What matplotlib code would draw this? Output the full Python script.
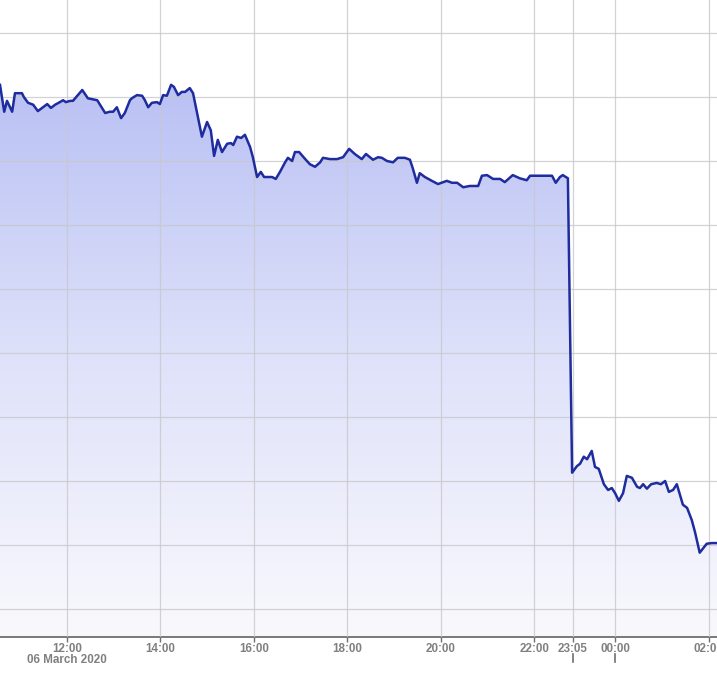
import numpy as np
import matplotlib.pyplot as plt
from matplotlib.colors import LinearSegmentedColormap
from matplotlib.patches import Polygon
from matplotlib.transforms import blended_transform_factory

# session hours (axis is compressed after 22:00) and price level (grid units)
hours = [10.57, 10.66, 10.72, 10.83, 10.89, 11.04, 11.08, 11.17, 11.28, 11.38,
         11.58, 11.66, 11.75, 11.85, 11.92, 11.98, 12.07, 12.13, 12.33, 12.45,
         12.65, 12.82, 12.92, 12.99, 13.07, 13.16, 13.24, 13.35, 13.39, 13.50,
         13.61, 13.67, 13.74, 13.82, 13.93, 13.99, 14.06, 14.14, 14.23, 14.29,
         14.38, 14.46, 14.53, 14.63, 14.70, 14.78, 14.89, 15.00, 15.08, 15.15,
         15.23, 15.32, 15.43, 15.51, 15.56, 15.64, 15.73, 15.81, 15.92, 15.98,
         16.07, 16.15, 16.22, 16.39, 16.47, 16.56, 16.67, 16.73, 16.82, 16.88,
         16.97, 17.10, 17.20, 17.31, 17.42, 17.48, 17.63, 17.78, 17.91, 18.04,
         18.16, 18.31, 18.40, 18.55, 18.66, 18.74, 18.85, 18.98, 19.08, 19.23,
         19.34, 19.40, 19.49, 19.55, 19.66, 19.81, 19.94, 20.13, 20.24, 20.35,
         20.48, 20.62, 20.80, 20.88, 20.99, 21.12, 21.27, 21.37, 21.54, 21.69,
         21.84, 21.91, 22.16, 22.38, 22.46, 22.55, 22.61, 22.72, 22.81, 22.91,
         22.98, 23.06, 23.13, 23.23, 23.30, 23.38, 23.49, 23.58, 23.66, 23.73,
         23.81, 23.90, 23.98, 24.09, 24.20, 24.26, 24.33, 24.41, 24.50, 24.62,
         24.71, 24.80, 24.88, 24.97, 25.05, 25.18, 25.27, 25.37, 25.44, 25.54,
         25.69, 25.80, 25.91]
values = [8.19, 7.77, 7.94, 7.77, 8.06, 8.06, 8.00, 7.91, 7.88, 7.78,
          7.89, 7.83, 7.88, 7.92, 7.95, 7.92, 7.94, 7.94, 8.11, 7.98,
          7.95, 7.75, 7.77, 7.77, 7.84, 7.67, 7.75, 7.95, 7.98, 8.03,
          8.02, 7.95, 7.84, 7.91, 7.92, 7.89, 8.03, 8.02, 8.19, 8.16,
          8.03, 8.08, 8.08, 8.14, 8.06, 7.77, 7.38, 7.61, 7.48, 7.08,
          7.33, 7.14, 7.27, 7.28, 7.25, 7.38, 7.36, 7.41, 7.22, 7.06,
          6.75, 6.83, 6.75, 6.75, 6.72, 6.83, 6.98, 7.05, 7.00, 7.14,
          7.14, 7.03, 6.95, 6.91, 6.98, 7.05, 7.03, 7.03, 7.06, 7.19,
          7.11, 7.03, 7.11, 7.02, 7.06, 7.05, 7.00, 6.98, 7.05, 7.05,
          7.02, 6.89, 6.66, 6.81, 6.75, 6.69, 6.64, 6.69, 6.66, 6.66,
          6.59, 6.61, 6.61, 6.77, 6.78, 6.72, 6.72, 6.67, 6.78, 6.73,
          6.70, 6.77, 6.77, 6.77, 6.66, 6.75, 6.78, 6.73, 2.13, 2.23,
          2.27, 2.38, 2.34, 2.47, 2.22, 2.19, 1.95, 1.86, 1.89, 1.81,
          1.69, 1.81, 2.08, 2.05, 1.91, 1.89, 1.95, 1.88, 1.95, 1.97,
          1.95, 2.00, 1.83, 1.86, 1.95, 1.63, 1.58, 1.39, 1.20, 0.88,
          1.02, 1.03, 1.03]

tick_pos = [12, 14, 16, 18, 20, 22, 22.82, 23.73, 25.73]
tick_labels = ['12:00\n06 March 2020', '14:00', '16:00', '18:00', '20:00',
               '22:00', '23:05', '00:00', '02:00']
marked_ticks = [22.82, 23.73]

x_min, x_max = 10.57, 25.91
y_min, y_max = -0.4375, 9.516

fig = plt.figure(figsize=(7.17, 6.77), dpi=100)
ax = fig.add_axes([0, 40 / 677, 1, 637 / 677])
ax.set_xlim(x_min, x_max)
ax.set_ylim(y_min, y_max)

# gradient fill under the line
cmap = LinearSegmentedColormap.from_list('fade', ['#f9f9fd', '#dfe2fa', '#bac1f4'])
grad = np.linspace(0, 1, 256).reshape(-1, 1)
img = ax.imshow(grad, cmap=cmap, origin='lower', aspect='auto',
                extent=[x_min, x_max, y_min, max(values)], zorder=1)
verts = [(hours[0], y_min)] + list(zip(hours, values)) + [(hours[-1], y_min)]
poly = Polygon(verts, closed=True, facecolor='none', edgecolor='none')
ax.add_patch(poly)
img.set_clip_path(poly)

ax.plot(hours, values, color='#1f2c9e', lw=1.8, zorder=3, solid_joinstyle='round')

ax.set_xticks(tick_pos)
ax.set_xticklabels(tick_labels, fontfamily='Liberation Sans', fontweight='bold',
                   fontsize=8.4, color='#808080', linespacing=0.9)
ax.set_yticks(range(10))
ax.set_yticklabels([])
ax.tick_params(axis='y', length=0)
ax.tick_params(axis='x', length=3.5, width=1, color='#707070', pad=0.5)
ax.set_axisbelow(False)
ax.grid(color='#c8c8cc', lw=0.9, alpha=0.8)

for s in ['left', 'right', 'top']:
    ax.spines[s].set_visible(False)
ax.spines['bottom'].set_color('#6e6e6e')
ax.spines['bottom'].set_linewidth(1.3)

trans = blended_transform_factory(ax.transData, ax.transAxes)
for t in marked_ticks:
    ax.plot([t, t], [-0.026, -0.04], transform=trans, color='#707070',
            lw=1.2, clip_on=False)

fig.savefig('out.png', dpi=100)
